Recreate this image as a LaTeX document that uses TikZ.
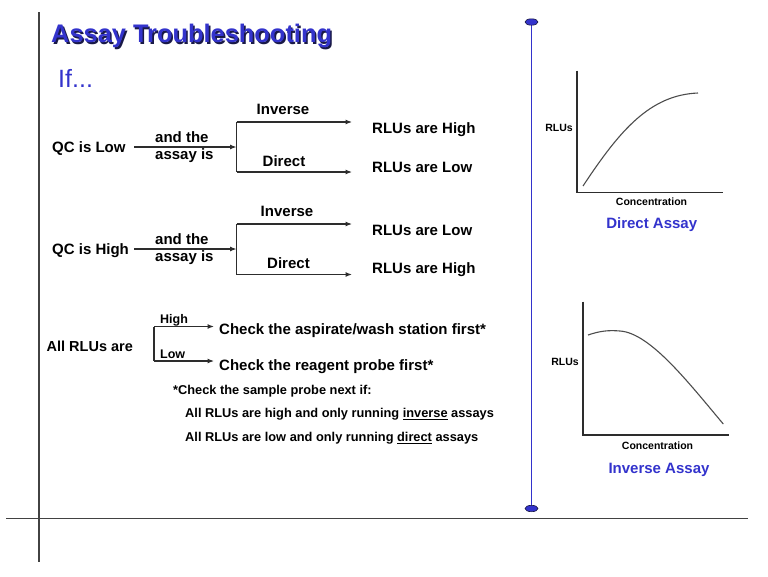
\documentclass[tikz,border=0pt]{standalone}
\usepackage{fontspec}
\setmainfont{Liberation Sans}
\usepackage{xcolor}
\usetikzlibrary{arrows.meta, positioning, calc}
\definecolor{titleblue}{RGB}{51,51,204}
\definecolor{shadowblue}{RGB}{25,25,70}
\definecolor{linegray}{RGB}{45,45,45}
\newcommand{\shadowed}[1]{\makebox[0pt][l]{\hspace{1.6pt}\raisebox{-1.6pt}{\textcolor{shadowblue}{#1}}}\textcolor{titleblue}{#1}}
\tikzset{
	heading/.style={font=\fontsize{25.4}{30}\selectfont\bfseries, anchor=base west, inner sep=0pt},
	cond/.style={font=\fontsize{15}{17.5}\selectfont\bfseries, anchor=base west, inner sep=0pt, align=left},
	branchlbl/.style={font=\fontsize{15}{18}\selectfont\bfseries, anchor=base, inner sep=0pt},
	result/.style={font=\fontsize{15}{18}\selectfont\bfseries, anchor=base west, inner sep=0pt},
	note/.style={font=\fontsize{12.8}{15}\selectfont\bfseries, anchor=base west, inner sep=0pt},
	level/.style={font=\fontsize{12.5}{15}\selectfont\bfseries, anchor=base west, inner sep=0pt},
	axlbl/.style={font=\fontsize{10.5}{12}\selectfont\bfseries, inner sep=0pt},
	caption/.style={font=\fontsize{15}{18}\selectfont\bfseries, text=titleblue, anchor=base, inner sep=0pt},
	transfer/.style={draw=linegray, line width=1.1pt, -{Latex[length=6.5pt,width=5pt]}},
	branch/.style={draw=linegray, line width=1.1pt},
	axis/.style={draw=linegray, line width=1.4pt},
	curve/.style={draw=linegray!85, line width=1.1pt},
	frame/.style={draw=linegray!90, line width=1.1pt},
	divider/.style={draw=titleblue, line width=1.8pt},
	knob/.style={fill=titleblue, draw=shadowblue, line width=0.6pt}
}

\begin{document}
\begin{tikzpicture}[x=1pt, y=-1pt]
	\useasboundingbox (0,0) rectangle (768,576);

	% frame lines
	\draw[frame] (39,12) -- (39,562);
	\draw[frame] (6,518.5) -- (748,518.5);

	% divider
	\coordinate (dtop) at (531.5,22);
	\coordinate (dbot) at (531.5,508.5);
	\draw[divider] (dtop) -- (dbot);
	\filldraw[knob] (dtop) ellipse (6.5pt and 3.2pt);
	\filldraw[knob] (dbot) ellipse (6.5pt and 3.2pt);

	% title
	\node (title) [heading] at (51,42.7) {\shadowed{Assay Troubleshooting}};
	\node (if) [anchor=base west, inner sep=0pt, font=\fontsize{25}{30}\selectfont, text=titleblue] at (58,87) {If...};

	% QC low
	\node (qclow) [cond] at (52,152.4) {QC is Low};
	\node (and1) [cond] at (155,159.5) {and the\\assay is};
	\coordinate (s1) at (134,147);
	\coordinate (b1) at (236.5,147);
	\coordinate (b1t) at (236.5,122);
	\coordinate (b1b) at (236.5,172);
	\coordinate (e1t) at (352,122);
	\coordinate (e1b) at (352,172);
	\node (inv1) [branchlbl] at (283,114.4) {Inverse};
	\node (dir1) [branchlbl] at (284,166) {Direct};
	\node (res1t) [result] at (372,133.4) {RLUs are High};
	\node (res1b) [result] at (372,172.2) {RLUs are Low};
	\draw[transfer] (s1) -- (b1);
	\draw[branch] (b1t) -- (b1b);
	\draw[transfer] (b1t) -- (e1t);
	\draw[transfer] (b1b) -- (e1b);

	% QC high
	\node (qchigh) [cond] at (52,254.4) {QC is High};
	\node (and2) [cond] at (155,261.5) {and the\\assay is};
	\coordinate (s2) at (134,249);
	\coordinate (b2) at (236.5,249);
	\coordinate (b2t) at (236.5,224);
	\coordinate (b2b) at (236.5,274.5);
	\coordinate (e2t) at (352,224);
	\coordinate (e2b) at (352,274.5);
	\node (inv2) [branchlbl] at (287,216) {Inverse};
	\node (dir2) [branchlbl] at (288.5,268) {Direct};
	\node (res2t) [result] at (372,235.4) {RLUs are Low};
	\node (res2b) [result] at (372,273.4) {RLUs are High};
	\draw[transfer] (s2) -- (b2);
	\draw[branch] (b2t) -- (b2b);
	\draw[transfer] (b2t) -- (e2t);
	\draw[transfer] (b2b) -- (e2b);

	% all RLUs
	\node (all) [cond, font=\fontsize{14.5}{17}\selectfont\bfseries] at (46.5,351.4) {All RLUs are};
	\coordinate (b3t) at (154,326.5);
	\coordinate (b3b) at (154,361);
	\coordinate (e3t) at (214,326.5);
	\coordinate (e3b) at (214,361);
	\node (high) [level] at (160,323.5) {High};
	\node (low) [level] at (160,358.5) {Low};
	\node (wash) [result] at (219,334.4) {Check the aspirate/wash station first*};
	\node (probe) [result] at (219,370.4) {Check the reagent probe first*};
	\draw[branch] (b3t) -- (b3b);
	\draw[transfer] (b3t) -- (e3t);
	\draw[transfer] (b3b) -- (e3b);

	% footnote
	\node (fn) [note] at (173,394.6) {*Check the sample probe next if:};
	\node (fn1) [note] at (185,417.6) {All RLUs are high and only running \underline{inverse} assays};
	\node (fn2) [note] at (185,441.6) {All RLUs are low and only running \underline{direct} assays};

	% direct assay graph
	\coordinate (o1) at (577,192.3);
	\draw[axis] (577,70.7) -- (o1) -- (722.7,192.3);
	\draw[curve] (583,186) .. controls (620,130) and (650,95) .. (698,93);
	\node (rlu1) [axlbl, anchor=base east] at (573,131.8) {RLUs};
	\node (conc1) [axlbl, anchor=base] at (651.5,205.8) {Concentration};
	\node (cap1) [caption] at (651.7,228.4) {Direct Assay};

	% inverse assay graph
	\coordinate (o2) at (583,435);
	\draw[axis] (583,301.7) -- (o2) -- (729.3,435);
	\draw[curve] (588,335) .. controls (600,331) and (608,330) .. (620,331)
		.. controls (650,333) and (688,382) .. (723.3,424);
	\node (rlu2) [axlbl, anchor=base east] at (579,365.5) {RLUs};
	\node (conc2) [axlbl, anchor=base] at (657.5,449.5) {Concentration};
	\node (cap2) [caption] at (659,473.7) {Inverse Assay};
\end{tikzpicture}
\end{document}
